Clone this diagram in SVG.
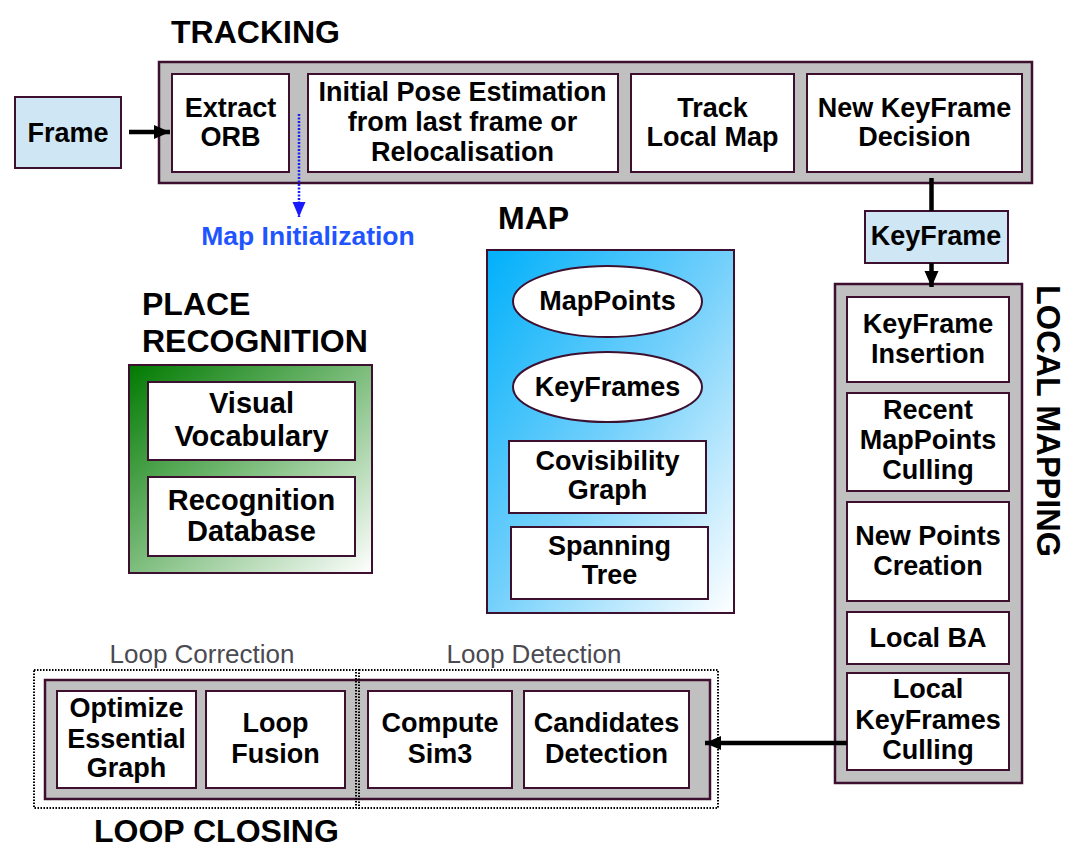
<svg xmlns="http://www.w3.org/2000/svg" width="1092" height="862" viewBox="0 0 1092 862">
<style>
text{font-family:"Liberation Sans",Arial,sans-serif;font-weight:bold;fill:#000;text-anchor:middle}
.b{font-size:27px}
.pr{font-size:29px}
.title{font-size:32px;text-anchor:start}
.sub{font-size:26px;font-weight:normal;fill:#4a4a52}
.box{fill:#fff;stroke:#3d1030;stroke-width:2}
.blue{fill:#cfe6f4;stroke:#3d1030;stroke-width:2}
.outer{fill:#c0c0c0;stroke:#3d1030;stroke-width:2.5}
.dots{fill:none;stroke:#000;stroke-width:2;stroke-dasharray:1.5 1.5}
.conn{stroke:#000;stroke-width:4.5;fill:none}
</style>
<defs>
<marker id="ah" markerUnits="userSpaceOnUse" markerWidth="18" markerHeight="16" refX="16" refY="8" orient="auto">
<path d="M0,1 L16,8 L0,15 Z" fill="#000"/>
</marker>
<marker id="ahb" markerUnits="userSpaceOnUse" markerWidth="14" markerHeight="16" refX="15" refY="7" orient="auto">
<path d="M0,0.5 L15,7 L0,13.5 Z" fill="#1a1aff"/>
</marker>
<linearGradient id="gMap" x1="0" y1="0" x2="1" y2="1">
<stop offset="0" stop-color="#00b0fa"/>
<stop offset="0.5" stop-color="#74d0fb"/>
<stop offset="1" stop-color="#ffffff"/>
</linearGradient>
<linearGradient id="gPR" x1="0" y1="0" x2="1" y2="1">
<stop offset="0" stop-color="#007a00"/>
<stop offset="0.5" stop-color="#7dbd7d"/>
<stop offset="1" stop-color="#ffffff"/>
</linearGradient>
</defs>

<g id="tracking">
<text class="title" x="171" y="43">TRACKING</text>
<rect class="outer" x="159" y="62" width="873" height="121"/>
</g>
<g id="extract-orb">
<rect class="box" x="172" y="74" width="117" height="98"/>
<text class="b" x="230.5" y="117">Extract</text>
<text class="b" x="230.5" y="146">ORB</text>
</g>
<g id="initial-pose">
<rect class="box" x="308" y="74" width="310" height="98"/>
<text class="b" x="462.5" y="101">Initial Pose Estimation</text>
<text class="b" x="462.5" y="131">from last frame or</text>
<text class="b" x="462.5" y="161">Relocalisation</text>
</g>
<g id="track-local-map">
<rect class="box" x="631" y="74" width="163" height="98"/>
<text class="b" x="712.5" y="117">Track</text>
<text class="b" x="712.5" y="146">Local Map</text>
</g>
<g id="new-keyframe-decision">
<rect class="box" x="807" y="74" width="215" height="98"/>
<text class="b" x="914.5" y="117">New KeyFrame</text>
<text class="b" x="914.5" y="146">Decision</text>
</g>

<g id="frame">
<rect class="blue" x="15" y="97" width="106" height="71"/>
<text class="b" x="68" y="142">Frame</text>
</g>

<g id="keyframe">
<rect class="blue" x="865" y="211" width="143" height="52"/>
<text class="b" x="936" y="245">KeyFrame</text>
</g>

<g id="map-initialization">
<text class="b" x="308" y="245" style="fill:#1f55ff;font-size:26.5px">Map Initialization</text>
</g>

<g id="map">
<text class="title" x="498" y="229">MAP</text>
<rect x="487" y="250" width="247" height="363" fill="url(#gMap)" stroke="#3d1030" stroke-width="2"/>
</g>
<g id="mappoints">
<ellipse class="box" cx="607.5" cy="301.5" rx="94.5" ry="35.5"/>
<text class="b" x="607.5" y="310">MapPoints</text>
</g>
<g id="keyframes">
<ellipse class="box" cx="607.5" cy="387" rx="94.5" ry="35"/>
<text class="b" x="607.5" y="396">KeyFrames</text>
</g>
<g id="covisibility-graph">
<rect class="box" x="509" y="441" width="197" height="72"/>
<text class="b" x="607.5" y="470">Covisibility</text>
<text class="b" x="607.5" y="499">Graph</text>
</g>
<g id="spanning-tree">
<rect class="box" x="511" y="527" width="197" height="72"/>
<text class="b" x="609.5" y="555">Spanning</text>
<text class="b" x="609.5" y="584">Tree</text>
</g>

<g id="place-recognition">
<text class="title" x="142" y="315">PLACE</text>
<text class="title" x="142" y="352">RECOGNITION</text>
<rect x="129" y="365" width="243" height="208" fill="url(#gPR)" stroke="#3d1030" stroke-width="2"/>
</g>
<g id="visual-vocabulary">
<rect class="box" x="148" y="382" width="207" height="78"/>
<text class="pr" x="251.5" y="413">Visual</text>
<text class="pr" x="251.5" y="446">Vocabulary</text>
</g>
<g id="recognition-database">
<rect class="box" x="148" y="477" width="207" height="79"/>
<text class="pr" x="251.5" y="510">Recognition</text>
<text class="pr" x="251.5" y="541">Database</text>
</g>

<g id="local-mapping">
<rect class="outer" x="835" y="284" width="187" height="499"/>
<text class="title" transform="translate(1037,285) rotate(90)" x="0" y="0" style="font-size:32.5px">LOCAL MAPPING</text>
</g>
<g id="keyframe-insertion">
<rect class="box" x="847" y="297" width="162" height="85"/>
<text class="b" x="928" y="333">KeyFrame</text>
<text class="b" x="928" y="363">Insertion</text>
</g>
<g id="recent-mappoints-culling">
<rect class="box" x="847" y="393" width="162" height="98"/>
<text class="b" x="928" y="419">Recent</text>
<text class="b" x="928" y="449">MapPoints</text>
<text class="b" x="928" y="479">Culling</text>
</g>
<g id="new-points-creation">
<rect class="box" x="847" y="502" width="162" height="99"/>
<text class="b" x="928" y="545">New Points</text>
<text class="b" x="928" y="575">Creation</text>
</g>
<g id="local-ba">
<rect class="box" x="847" y="612" width="162" height="52"/>
<text class="b" x="928" y="647">Local BA</text>
</g>
<g id="local-keyframes-culling">
<rect class="box" x="847" y="673" width="162" height="97"/>
<text class="b" x="928" y="698">Local</text>
<text class="b" x="928" y="729">KeyFrames</text>
<text class="b" x="928" y="759">Culling</text>
</g>

<g id="loop-closing">
<rect class="outer" x="45" y="680" width="665" height="119"/>
<text class="title" x="94" y="842">LOOP CLOSING</text>
</g>
<g id="loop-correction">
<rect class="dots" x="34" y="670" width="322" height="138"/>
<text class="sub" x="202" y="663">Loop Correction</text>
</g>
<g id="loop-detection">
<rect class="dots" x="359" y="670" width="359" height="138"/>
<text class="sub" x="534" y="663">Loop Detection</text>
</g>
<g id="optimize-essential-graph">
<rect class="box" x="57" y="691" width="139" height="97"/>
<text class="b" x="126.5" y="717">Optimize</text>
<text class="b" x="126.5" y="748">Essential</text>
<text class="b" x="126.5" y="777">Graph</text>
</g>
<g id="loop-fusion">
<rect class="box" x="206" y="691" width="139" height="97"/>
<text class="b" x="275.5" y="732">Loop</text>
<text class="b" x="275.5" y="763">Fusion</text>
</g>
<g id="compute-sim3">
<rect class="box" x="368" y="691" width="144" height="97"/>
<text class="b" x="440" y="732">Compute</text>
<text class="b" x="440" y="763">Sim3</text>
</g>
<g id="candidates-detection">
<rect class="box" x="524" y="691" width="165" height="97"/>
<text class="b" x="606.5" y="732">Candidates</text>
<text class="b" x="606.5" y="763">Detection</text>
</g>

<g id="connectors">
<line class="conn" x1="129" y1="132" x2="170" y2="132" marker-end="url(#ah)"/>
<line x1="299" y1="114" x2="299" y2="217" stroke="#1a1aff" stroke-width="2.5" stroke-dasharray="2 1.5" marker-end="url(#ahb)"/>
<line class="conn" x1="931.5" y1="178" x2="931.5" y2="211"/>
<line class="conn" x1="931.5" y1="263" x2="931.5" y2="287" marker-end="url(#ah)"/>
<line class="conn" x1="847" y1="743" x2="705" y2="743" marker-end="url(#ah)"/>
</g>
</svg>
